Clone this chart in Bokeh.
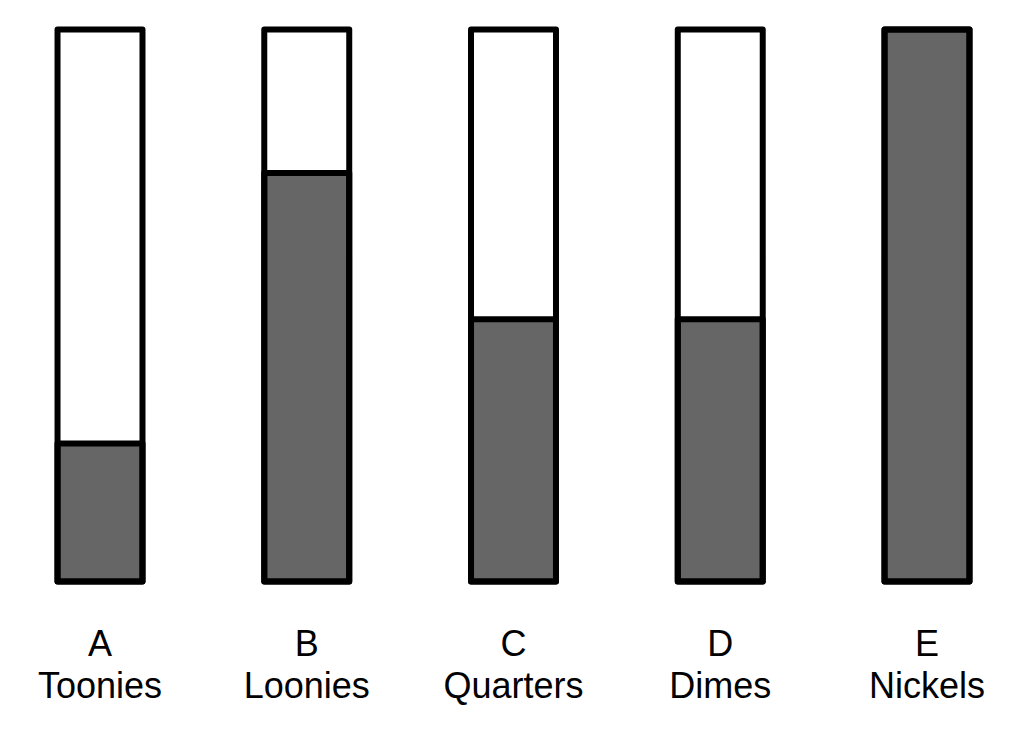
from bokeh.plotting import figure
from bokeh.models import ColumnDataSource, Range1d
from bokeh.core.properties import value
from bokeh.embed import file_html
from bokeh.resources import INLINE

letters = ["A", "B", "C", "D", "E"]
coins = ["Toonies", "Loonies", "Quarters", "Dimes", "Nickels"]
fractions = [0.25, 0.74, 0.475, 0.475, 1.0]

xs = list(range(len(letters)))

src = ColumnDataSource(dict(x=xs, frac=fractions, full=[1.0] * len(xs),
                            letter=letters, coin=coins))

p = figure(width=1008, height=720, output_backend="svg", toolbar_location=None,
           x_range=Range1d(-0.4813, 4.3942), y_range=Range1d(-0.2518, 1.0525),
           min_border=0)
p.axis.visible = False
p.grid.visible = False
p.outline_line_color = None
p.background_fill_color = "white"
p.border_fill_color = "white"

# filled part
p.vbar(x="x", width=0.411, bottom=0, top="frac", source=src,
       fill_color="#666666", line_color="black", line_width=6, line_join="round")
# outline of full container
p.vbar(x="x", width=0.411, bottom=0, top="full", source=src,
       fill_color=None, line_color="black", line_width=6, line_join="round")

p.text(x="x", y=-0.1123, text="letter", source=src, text_align="center",
       text_baseline="alphabetic", text_font=value("Liberation Sans"),
       text_font_size="36px", text_color="black")
p.text(x="x", y=-0.1884, text="coin", source=src, text_align="center",
       text_baseline="alphabetic", text_font=value("Liberation Sans"),
       text_font_size="36px", text_color="black")

open("out.html", "w").write(file_html(p, INLINE))
